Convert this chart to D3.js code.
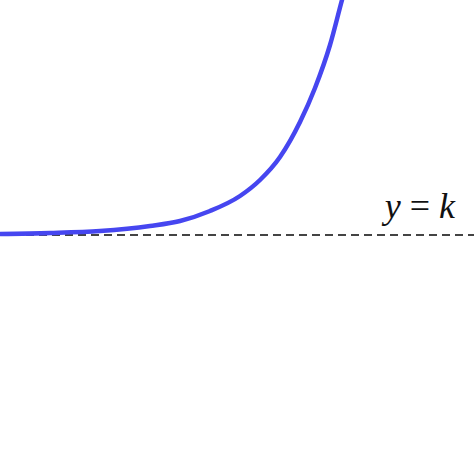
<!DOCTYPE html>
<html><head><meta charset="utf-8">
<script src="https://cdn.jsdelivr.net/npm/d3@7"></script>
<style>html,body{margin:0;padding:0;background:#fff}</style>
</head><body>
<svg id="c" width="474" height="466"></svg>
<script>
const xValues = [0, 0.5, 1.0, 1.5, 1.8, 2.1, 2.4, 2.6, 2.8, 3.0, 3.15, 3.3, 3.42, 3.45];
const yValues = [0.01, 0.02, 0.04, 0.09, 0.14, 0.24, 0.39, 0.55, 0.78, 1.13, 1.47, 1.90, 2.35, 2.46];
const asymptoteK = 0;
const labelParts = ["y", " = ", "k"];

const svg = d3.select("#c");
const x = d3.scaleLinear().domain([0, 4.74]).range([0, 474]);
const y = d3.scaleLinear().domain([-2.31, 2.35]).range([466, 0]);

svg.append("line")
  .attr("x1", x(0)).attr("x2", x(4.74))
  .attr("y1", y(asymptoteK)).attr("y2", y(asymptoteK))
  .attr("stroke", "#444").attr("stroke-width", 2.2)
  .attr("stroke-dasharray", "8,5");

const pts = xValues.map((v, i) => [v, yValues[i]]);
svg.append("path")
  .datum(pts)
  .attr("d", d3.line().x(d => x(d[0])).y(d => y(d[1])).curve(d3.curveMonotoneX))
  .attr("fill", "none").attr("stroke", "#4646f0").attr("stroke-width", 4.5);

const t = svg.append("text")
  .attr("x", x(4.55)).attr("y", y(asymptoteK + 0.17))
  .attr("text-anchor", "end")
  .attr("font-family", "'Liberation Serif', 'DejaVu Serif', serif")
  .attr("font-size", 36).attr("fill", "#111");
t.append("tspan").attr("font-style", "italic").text(labelParts[0]);
t.append("tspan").attr("xml:space", "preserve").text(labelParts[1]);
t.append("tspan").attr("font-style", "italic").text(labelParts[2]);
</script>
</body></html>
